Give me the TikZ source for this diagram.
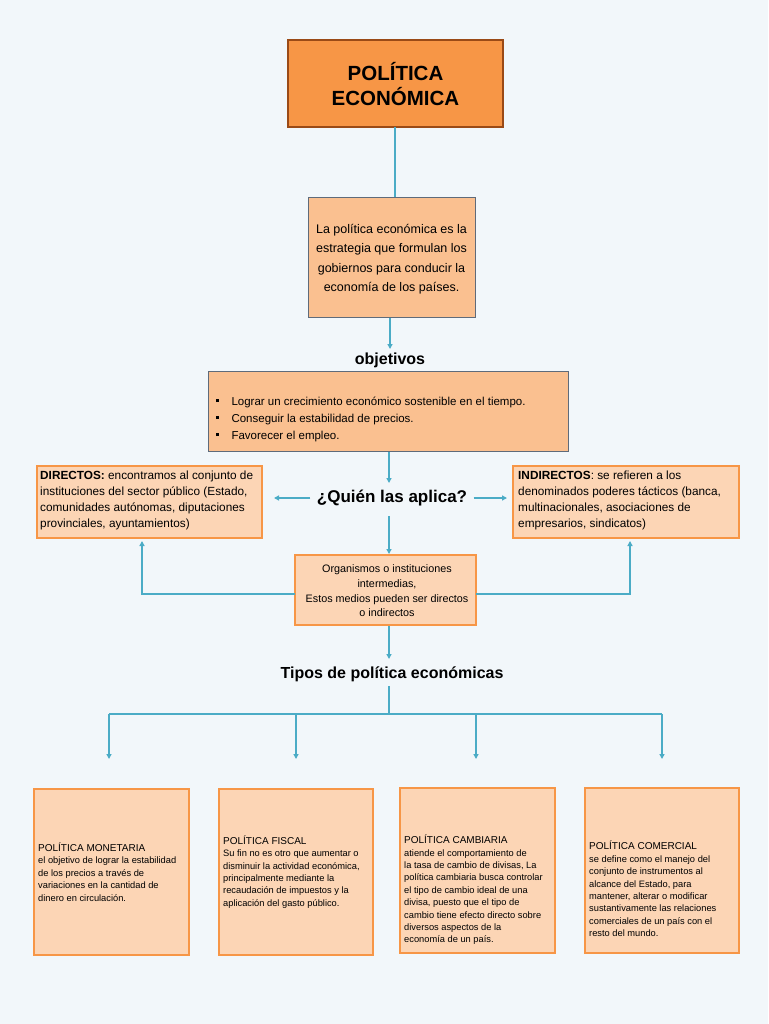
\documentclass[tikz,border=0pt]{standalone}
\usepackage{fontspec}
\setmainfont{Liberation Sans}
\usetikzlibrary{arrows.meta}
\definecolor{bg}{HTML}{F2F7FA}
\definecolor{ttl}{HTML}{F79646}
\definecolor{ttlb}{HTML}{9A4A16}
\definecolor{mid}{HTML}{FAC090}
\definecolor{lite}{HTML}{FCD5B5}
\definecolor{gry}{HTML}{5F6B7A}
\definecolor{teal}{HTML}{4BACC6}
\newcommand{\bul}{\makebox[16pt][l]{\rule[3pt]{3pt}{3pt}}}
\tikzset{
 conn/.style={draw=teal,line width=1.6pt},
 arr/.style={conn,-{Triangle[length=5pt,width=5pt]}},
 lbox/.style={fill=lite,draw=ttl,line width=1.5pt},
 lbl/.style={font=\bfseries\fontsize{16}{19}\selectfont}
}
\begin{document}
\begin{tikzpicture}[x=1pt,y=-1pt]
\fill[bg] (0,0) rectangle (768,1024);
\useasboundingbox (0,0) rectangle (768,1024);
% title
\draw[fill=ttl,draw=ttlb,line width=1.5pt] (288,40) rectangle (503,127);
\node[font=\bfseries\fontsize{20.5}{25}\selectfont,align=center] (title) at (395.5,84) {POLÍTICA\\ECONÓMICA};
\coordinate (titleb) at (395,127);
% description
\draw[fill=mid,draw=gry,line width=0.8pt] (308,197) rectangle (475,317);
\node[font=\fontsize{12.5}{19.5}\selectfont,align=center] (desc) at (391.5,259) {La política económica es la\\estrategia que formulan los\\gobiernos para conducir la\\economía de los países.};
\coordinate (desct) at (395,197);
\coordinate (descb) at (390,318);
\node[lbl] (obj) at (390,360) {objetivos};
% objectives
\draw[fill=mid,draw=gry,line width=0.8pt] (208,371) rectangle (568,451);
\node[font=\fontsize{11.5}{17}\selectfont,align=left,anchor=west] (objs) at (212,419) {%
\bul Lograr un crecimiento económico sostenible en el tiempo.\\
\bul Conseguir la estabilidad de precios.\\
\bul Favorecer el empleo.};
\coordinate (objb) at (389,452);
% quien
\node[font=\bfseries\fontsize{17}{20}\selectfont] (q) at (392,498) {¿Quién las aplica?};
% directos
\draw[lbox] (37,466) rectangle (262,538);
\node[font=\fontsize{11.8}{16}\selectfont,align=left,anchor=north west,inner sep=0pt] (dir) at (40,471) {\textbf{DIRECTOS:} encontramos al conjunto de\\instituciones del sector público (Estado,\\comunidades autónomas, diputaciones\\provinciales, ayuntamientos)};
\coordinate (dirr) at (274,498);
\coordinate (dirb) at (142,541);
% indirectos
\draw[lbox] (513,466) rectangle (739,538);
\node[font=\fontsize{11.8}{16}\selectfont,align=left,anchor=north west,inner sep=0pt] (ind) at (518,471) {\textbf{INDIRECTOS}: se refieren a los\\denominados poderes tácticos (banca,\\multinacionales, asociaciones de\\empresarios, sindicatos)};
\coordinate (indl) at (507,498);
\coordinate (indb) at (630,541);
% organismos
\draw[lbox] (295,555) rectangle (476,625);
\node[font=\fontsize{10.8}{14.7}\selectfont,align=center] (org) at (387,591) {Organismos o instituciones\\intermedias,\\Estos medios pueden ser directos\\o indirectos};
\coordinate (orgt) at (389,554);
\coordinate (orgl) at (295,594);
\coordinate (orgr) at (476,594);
\coordinate (orgb) at (389,626);
\coordinate (tiposn) at (389,659);
\node[lbl] (tipos) at (392,674) {Tipos de política económicas};
% connectors
\draw[conn] (titleb) -- (desct);
\draw[arr] (descb) -- (obj.north);
\draw[arr] (objb) -- (389,483);
\draw[arr] (q.west) ++(-3,0) -- (dirr);
\draw[arr] (q.east) ++(3,0) -- (indl);
\draw[arr] (389,516) -- (orgt);
\draw[arr] (orgl) -- (142,594) -- (dirb);
\draw[arr] (orgr) -- (630,594) -- (indb);
\draw[arr] (orgb) -- (tiposn);
\coordinate (br) at (389,714);
\draw[conn] (389,686) -- (br);
\draw[conn] (109,714) -- (662,714);
\foreach \x/\n in {109/a,296/b,476/c,662/d}{
 \coordinate (t\n) at (\x,759);
 \draw[arr] (\x,714) -- (t\n);
}
% bottom boxes
\tikzset{bt/.style={font=\fontsize{9.3}{12.4}\selectfont,align=left,anchor=west,inner sep=0pt}}
\newcommand{\hd}[1]{{\fontsize{10}{12.4}\selectfont #1}}
\draw[lbox] (34,789) rectangle (189,955);
\node[bt] (m) at (38,872) {\hd{POLÍTICA MONETARIA}\\el objetivo de lograr la estabilidad\\de los precios a través de\\variaciones en la cantidad de\\dinero en circulación.};
\draw[lbox] (219,789) rectangle (373,955);
\node[bt] (f) at (223,872) {\hd{POLÍTICA FISCAL}\\Su fin no es otro que aumentar o\\disminuir la actividad económica,\\principalmente mediante la\\recaudación de impuestos y la\\aplicación del gasto público.};
\draw[lbox] (400,788) rectangle (555,953);
\node[bt] (c) at (404,890) {\hd{POLÍTICA CAMBIARIA}\\atiende el comportamiento de\\la tasa de cambio de divisas, La\\política cambiaria busca controlar\\el tipo de cambio ideal de una\\divisa, puesto que el tipo de\\cambio tiene efecto directo sobre\\diversos aspectos de la\\economía de un país.};
\draw[lbox] (585,788) rectangle (739,953);
\node[bt] (co) at (589,889) {\hd{POLÍTICA COMERCIAL}\\ se define como el manejo del\\conjunto de instrumentos al\\alcance del Estado, para\\mantener, alterar o modificar\\sustantivamente las relaciones\\comerciales de un país con el\\resto del mundo.};
\end{tikzpicture}
\end{document}
